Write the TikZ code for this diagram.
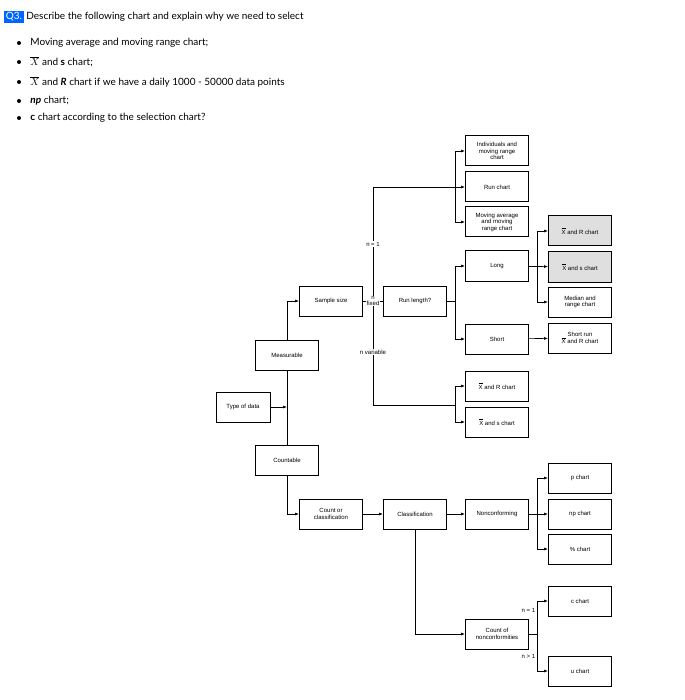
\documentclass[tikz,border=0pt]{standalone}
\usepackage{fontspec}
\setmainfont{Lato}
\newfontfamily\chartfont{Liberation Sans}
\usetikzlibrary{arrows.meta}
\newcommand{\xb}{$\overline{\mbox{X}}$}
\begin{document}
\begin{tikzpicture}[x=1pt, y=-1pt, thick,
    box/.style = {draw, line width=1pt, minimum width=63pt, minimum height=30pt, align=center, inner sep=1pt, font=\chartfont\fontsize{6}{6.5}\selectfont},
    gbox/.style = {box, fill=gray!25},
    lbl/.style = {font=\chartfont\fontsize{6}{6.5}\selectfont, inner sep=0.5pt, fill=white},
    txt/.style = {anchor=west, inner sep=0pt, font=\fontsize{10}{12}\selectfont},
    dot/.style = {circle, fill, inner sep=0pt, minimum size=4pt},
    ar/.style = {-{Latex[length=4pt,width=3pt]}, line width=0.6pt},
    ln/.style = {line width=0.6pt}]
    \useasboundingbox (0,0) rectangle (684,700);
    % question
    \node[fill=blue!60!cyan, text=white, inner sep=1.5pt, font=\fontsize{10}{11}\selectfont] (q) at (14,17) {Q3.};
    \node[txt] (t) at ([xshift=2pt]q.east) {Describe the following chart and explain why we need to select};
    \foreach \y/\s [count=\i] in {43/{Moving average and moving range chart;},
        62/{$\overline{X}$ and \textbf{s} chart;},
        82/{$\overline{X}$ and \textbf{\textit{R}} chart if we have a daily 1000 - 50000 data points},
        101/{\textbf{\textit{np}} chart;},
        118/{\textbf{c} chart according to the selection chart?}} {
      \node[dot] (d\i) at (19,\y) {};
      \node[txt] (b\i) at (30,\y) {\s};
    }
    % boxes
    \node[box, minimum width=54pt] (type) at (243,407) {Type of data};
    \node[box] (meas) at (287,355) {Measurable};
    \node[box] (count) at (287,460) {Countable};
    \node[box] (sample) at (331,301) {Sample size};
    \node[box] (runlen) at (415,301) {Run length?};
    \node[box] (indiv) at (497,151) {Individuals and\\moving range\\chart};
    \node[box] (run) at (497,187) {Run chart};
    \node[box] (mavg) at (497,222) {Moving average\\and moving\\range chart};
    \node[box] (long) at (497,266) {Long};
    \node[box] (short) at (497,339) {Short};
    \node[box] (xr) at (497,386) {\xb\ and R chart};
    \node[box] (xs) at (497,422) {\xb\ and s chart};
    \node[gbox] (lxr) at (580,231) {\xb\ and R chart};
    \node[gbox] (lxs) at (580,267) {\xb\ and s chart};
    \node[box] (med) at (580,302) {Median and\\range chart};
    \node[box] (srun) at (580,338) {Short run\\\xb\ and R chart};
    \node[box] (cclass) at (331,514) {Count or\\classification};
    \node[box] (class) at (415,514) {Classification};
    \node[box] (nonc) at (497,514) {Nonconforming};
    \node[box] (p) at (580,478) {p chart};
    \node[box] (np) at (580,514) {np chart};
    \node[box] (pct) at (580,549) {\% chart};
    \node[box] (c) at (580,601) {c chart};
    \node[box] (cnon) at (497,634) {Count of\\nonconformities};
    \node[box] (u) at (580,671) {u chart};
    % type of data
    \draw[ar] (type) -- (287,407);
    \draw[ln] (meas) -- (count);
    \draw[ar] (meas.north) |- (sample);
    \draw[ar] (count.south) |- (cclass);
    % sample size
    \draw[ln] (sample) -- (runlen);
    \coordinate (top) at (373,187);
    \coordinate (bot) at (373,405);
    \draw[ln] (top) -- (bot);
    \draw[ar] (top) -- (run);
    \draw[ar] (455,187) |- (indiv);
    \draw[ar] (455,187) |- (mavg);
    \draw[ln] (bot) -- (455,405);
    \draw[ar] (455,405) |- (xr);
    \draw[ar] (455,405) |- (xs);
    \node[lbl] (n1) at (373,244) {n = 1};
    \node[lbl, align=center] (nf) at (373,301) {n\\fixed};
    \node[lbl] (nv) at (373,352) {n variable};
    % run length
    \draw[ln] (runlen) -- (455,301);
    \draw[ar] (455,301) |- (long);
    \draw[ar] (455,301) |- (short);
    \draw[ln] (long) -- (537,266);
    \draw[ar] (537,266) |- (lxr);
    \draw[ar] (long) -- (lxs);
    \draw[ar] (537,266) |- (med);
    \draw[ar] (short) -- (srun);
    % countable
    \draw[ar] (cclass) -- (class);
    \draw[ar] (class) -- (nonc);
    \draw[ln] (nonc) -- (537,514);
    \draw[ar] (537,514) |- (p);
    \draw[ar] (nonc) -- (np);
    \draw[ar] (537,514) |- (pct);
    \draw[ar] (class.south) |- (cnon);
    \draw[ln] (cnon) -- (537,634);
    \draw[ar] (537,634) |- (c);
    \draw[ar] (537,634) |- (u);
    \node[lbl, anchor=east, fill=none] (ne1) at (536,610) {n = 1};
    \node[lbl, anchor=east, fill=none] (ng1) at (536,656) {n > 1};
\end{tikzpicture}
\end{document}
